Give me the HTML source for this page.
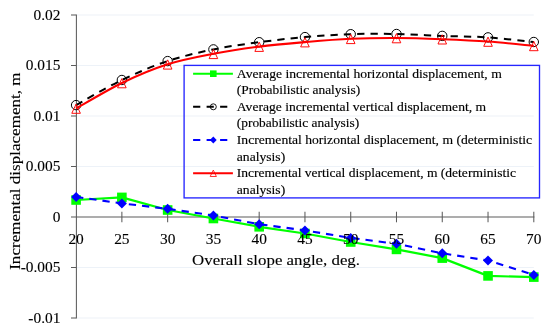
<!DOCTYPE html>
<html><head><meta charset="utf-8"><title>Incremental displacement chart</title>
<style>html,body{margin:0;padding:0;background:#fff}svg{display:block}text{font-family:"Liberation Serif",serif;fill:#000}</style></head><body>
<svg width="550" height="331" viewBox="0 0 550 331">
<rect width="550" height="331" fill="#fff"/>
<line x1="76.1" x2="533.8" y1="15.00" y2="15.00" stroke="#edf2f8" stroke-width="1.2"/>
<line x1="76.1" x2="533.8" y1="65.50" y2="65.50" stroke="#edf2f8" stroke-width="1.2"/>
<line x1="76.1" x2="533.8" y1="116.00" y2="116.00" stroke="#edf2f8" stroke-width="1.2"/>
<line x1="76.1" x2="533.8" y1="166.50" y2="166.50" stroke="#edf2f8" stroke-width="1.2"/>
<line x1="76.1" x2="533.8" y1="267.50" y2="267.50" stroke="#edf2f8" stroke-width="1.2"/>
<line x1="76.1" x2="533.8" y1="318.00" y2="318.00" stroke="#edf2f8" stroke-width="1.2"/>
<line x1="76.4" x2="76.4" y1="14.5" y2="318.5" stroke="#5c5c5c" stroke-width="1.05"/>
<line x1="76.1" x2="534.4" y1="217.00" y2="217.00" stroke="#5c5c5c" stroke-width="1.05"/>
<line x1="71" x2="76.1" y1="15.00" y2="15.00" stroke="#5c5c5c" stroke-width="1.05"/>
<line x1="71" x2="76.1" y1="65.50" y2="65.50" stroke="#5c5c5c" stroke-width="1.05"/>
<line x1="71" x2="76.1" y1="116.00" y2="116.00" stroke="#5c5c5c" stroke-width="1.05"/>
<line x1="71" x2="76.1" y1="166.50" y2="166.50" stroke="#5c5c5c" stroke-width="1.05"/>
<line x1="71" x2="76.1" y1="217.00" y2="217.00" stroke="#5c5c5c" stroke-width="1.05"/>
<line x1="71" x2="76.1" y1="267.50" y2="267.50" stroke="#5c5c5c" stroke-width="1.05"/>
<line x1="71" x2="76.1" y1="318.00" y2="318.00" stroke="#5c5c5c" stroke-width="1.05"/>
<line x1="121.87" x2="121.87" y1="211.70" y2="222.30" stroke="#5c5c5c" stroke-width="1.05"/>
<line x1="167.64" x2="167.64" y1="211.70" y2="222.30" stroke="#5c5c5c" stroke-width="1.05"/>
<line x1="213.41" x2="213.41" y1="211.70" y2="222.30" stroke="#5c5c5c" stroke-width="1.05"/>
<line x1="259.18" x2="259.18" y1="211.70" y2="222.30" stroke="#5c5c5c" stroke-width="1.05"/>
<line x1="304.95" x2="304.95" y1="211.70" y2="222.30" stroke="#5c5c5c" stroke-width="1.05"/>
<line x1="350.72" x2="350.72" y1="211.70" y2="222.30" stroke="#5c5c5c" stroke-width="1.05"/>
<line x1="396.49" x2="396.49" y1="211.70" y2="222.30" stroke="#5c5c5c" stroke-width="1.05"/>
<line x1="442.26" x2="442.26" y1="211.70" y2="222.30" stroke="#5c5c5c" stroke-width="1.05"/>
<line x1="488.03" x2="488.03" y1="211.70" y2="222.30" stroke="#5c5c5c" stroke-width="1.05"/>
<line x1="533.80" x2="533.80" y1="211.70" y2="222.30" stroke="#5c5c5c" stroke-width="1.05"/>
<path d="M76.10,200.00 L121.87,197.40 L167.64,210.00 L213.41,218.50 L259.18,226.80 L304.95,233.50 L350.72,242.00 L396.49,249.40 L442.26,258.10 L488.03,275.90 L533.80,277.10" fill="none" stroke="#00ff00" stroke-width="2.2" stroke-linejoin="round"/>
<rect x="71.30" y="195.20" width="9.6" height="9.6" fill="#00ff00"/>
<rect x="117.07" y="192.60" width="9.6" height="9.6" fill="#00ff00"/>
<rect x="162.84" y="205.20" width="9.6" height="9.6" fill="#00ff00"/>
<rect x="208.61" y="213.70" width="9.6" height="9.6" fill="#00ff00"/>
<rect x="254.38" y="222.00" width="9.6" height="9.6" fill="#00ff00"/>
<rect x="300.15" y="228.70" width="9.6" height="9.6" fill="#00ff00"/>
<rect x="345.92" y="237.20" width="9.6" height="9.6" fill="#00ff00"/>
<rect x="391.69" y="244.60" width="9.6" height="9.6" fill="#00ff00"/>
<rect x="437.46" y="253.30" width="9.6" height="9.6" fill="#00ff00"/>
<rect x="483.23" y="271.10" width="9.6" height="9.6" fill="#00ff00"/>
<rect x="529.00" y="272.30" width="9.6" height="9.6" fill="#00ff00"/>
<path d="M76.10,105.10 C83.73,100.92 106.61,87.33 121.87,80.00 C137.13,72.67 152.38,66.20 167.64,61.10 C182.90,56.00 198.15,52.55 213.41,49.40 C228.67,46.25 243.92,44.25 259.18,42.20 C274.44,40.15 289.69,38.43 304.95,37.10 C320.21,35.77 335.46,34.72 350.72,34.20 C365.98,33.68 381.23,33.72 396.49,34.00 C411.75,34.28 427.00,35.33 442.26,35.90 C457.52,36.47 472.77,36.38 488.03,37.40 C503.29,38.42 526.17,41.23 533.80,42.00" fill="none" stroke="#000" stroke-width="2.0" stroke-dasharray="7.3 6.05"/>
<circle cx="76.10" cy="105.10" r="4.7" fill="none" stroke="#000" stroke-width="1"/>
<circle cx="121.87" cy="80.00" r="4.7" fill="none" stroke="#000" stroke-width="1"/>
<circle cx="167.64" cy="61.10" r="4.7" fill="none" stroke="#000" stroke-width="1"/>
<circle cx="213.41" cy="49.40" r="4.7" fill="none" stroke="#000" stroke-width="1"/>
<circle cx="259.18" cy="42.20" r="4.7" fill="none" stroke="#000" stroke-width="1"/>
<circle cx="304.95" cy="37.10" r="4.7" fill="none" stroke="#000" stroke-width="1"/>
<circle cx="350.72" cy="34.20" r="4.7" fill="none" stroke="#000" stroke-width="1"/>
<circle cx="396.49" cy="34.00" r="4.7" fill="none" stroke="#000" stroke-width="1"/>
<circle cx="442.26" cy="35.90" r="4.7" fill="none" stroke="#000" stroke-width="1"/>
<circle cx="488.03" cy="37.40" r="4.7" fill="none" stroke="#000" stroke-width="1"/>
<circle cx="533.80" cy="42.00" r="4.7" fill="none" stroke="#000" stroke-width="1"/>
<path d="M76.10,196.90 L121.87,203.40 L167.64,208.80 L213.41,215.50 L259.18,224.20 L304.95,230.40 L350.72,237.90 L396.49,243.80 L442.26,253.30 L488.03,260.50 L533.80,274.90" fill="none" stroke="#0000ff" stroke-width="2.1" stroke-dasharray="7.3 6"/>
<path d="M76.10,191.90 L81.10,196.90 L76.10,201.90 L71.10,196.90Z" fill="#0000ff"/>
<path d="M121.87,198.40 L126.87,203.40 L121.87,208.40 L116.87,203.40Z" fill="#0000ff"/>
<path d="M167.64,203.80 L172.64,208.80 L167.64,213.80 L162.64,208.80Z" fill="#0000ff"/>
<path d="M213.41,210.50 L218.41,215.50 L213.41,220.50 L208.41,215.50Z" fill="#0000ff"/>
<path d="M259.18,219.20 L264.18,224.20 L259.18,229.20 L254.18,224.20Z" fill="#0000ff"/>
<path d="M304.95,225.40 L309.95,230.40 L304.95,235.40 L299.95,230.40Z" fill="#0000ff"/>
<path d="M350.72,232.90 L355.72,237.90 L350.72,242.90 L345.72,237.90Z" fill="#0000ff"/>
<path d="M396.49,238.80 L401.49,243.80 L396.49,248.80 L391.49,243.80Z" fill="#0000ff"/>
<path d="M442.26,248.30 L447.26,253.30 L442.26,258.30 L437.26,253.30Z" fill="#0000ff"/>
<path d="M488.03,255.50 L493.03,260.50 L488.03,265.50 L483.03,260.50Z" fill="#0000ff"/>
<path d="M533.80,269.90 L538.80,274.90 L533.80,279.90 L528.80,274.90Z" fill="#0000ff"/>
<path d="M76.10,108.50 C83.73,104.25 106.61,90.37 121.87,83.00 C137.13,75.63 152.38,69.17 167.64,64.30 C182.90,59.43 198.15,56.75 213.41,53.80 C228.67,50.85 243.92,48.55 259.18,46.60 C274.44,44.65 289.69,43.40 304.95,42.10 C320.21,40.80 335.46,39.48 350.72,38.80 C365.98,38.12 381.23,37.93 396.49,38.00 C411.75,38.07 427.00,38.62 442.26,39.20 C457.52,39.78 472.77,40.38 488.03,41.50 C503.29,42.62 526.17,45.17 533.80,45.90" fill="none" stroke="#ff0000" stroke-width="2.1"/>
<path d="M76.10,104.10 L80.40,113.30 L71.80,113.30Z" fill="none" stroke="#ff0000" stroke-width="0.95"/>
<path d="M121.87,78.60 L126.17,87.80 L117.57,87.80Z" fill="none" stroke="#ff0000" stroke-width="0.95"/>
<path d="M167.64,59.90 L171.94,69.10 L163.34,69.10Z" fill="none" stroke="#ff0000" stroke-width="0.95"/>
<path d="M213.41,49.40 L217.71,58.60 L209.11,58.60Z" fill="none" stroke="#ff0000" stroke-width="0.95"/>
<path d="M259.18,42.20 L263.48,51.40 L254.88,51.40Z" fill="none" stroke="#ff0000" stroke-width="0.95"/>
<path d="M304.95,37.70 L309.25,46.90 L300.65,46.90Z" fill="none" stroke="#ff0000" stroke-width="0.95"/>
<path d="M350.72,34.40 L355.02,43.60 L346.42,43.60Z" fill="none" stroke="#ff0000" stroke-width="0.95"/>
<path d="M396.49,33.60 L400.79,42.80 L392.19,42.80Z" fill="none" stroke="#ff0000" stroke-width="0.95"/>
<path d="M442.26,34.80 L446.56,44.00 L437.96,44.00Z" fill="none" stroke="#ff0000" stroke-width="0.95"/>
<path d="M488.03,37.10 L492.33,46.30 L483.73,46.30Z" fill="none" stroke="#ff0000" stroke-width="0.95"/>
<path d="M533.80,41.50 L538.10,50.70 L529.50,50.70Z" fill="none" stroke="#ff0000" stroke-width="0.95"/>
<rect x="184.1" y="65.4" width="355.4" height="132.5" fill="none" stroke="#2626ff" stroke-width="1.35"/>
<line x1="193.1" x2="232.9" y1="73.7" y2="73.7" stroke="#00ff00" stroke-width="1.9"/>
<rect x="210.0" y="70.4" width="6.6" height="6.6" fill="#00ff00"/>
<line x1="193.1" x2="232.9" y1="106.8" y2="106.8" stroke="#000" stroke-width="1.9" stroke-dasharray="7.2 6.3 7.2 6.3 7.2 100"/>
<circle cx="213.3" cy="106.8" r="3" fill="none" stroke="#000" stroke-width="0.9"/>
<line x1="193.1" x2="232.9" y1="140" y2="140" stroke="#0000ff" stroke-width="1.9" stroke-dasharray="7.2 6.3 7.2 6.3 7.2 100"/>
<path d="M213.3,136.6 L216.70000000000002,140 L213.3,143.4 L209.9,140Z" fill="#0000ff"/>
<line x1="193.1" x2="232.9" y1="173.3" y2="173.3" stroke="#ff0000" stroke-width="2"/>
<path d="M213.3,170.10000000000002 L216.4,176.5 L210.20000000000002,176.5Z" fill="none" stroke="#ff0000" stroke-width="0.8"/>
<text x="236.8" y="77.50" font-size="13" stroke="#000" stroke-width="0.15" textLength="265.0" lengthAdjust="spacingAndGlyphs">Average incremental horizontal displacement, m</text>
<text x="236.8" y="94.10" font-size="13" stroke="#000" stroke-width="0.15" textLength="123.4" lengthAdjust="spacingAndGlyphs">(Probabilistic analysis)</text>
<text x="236.8" y="110.70" font-size="13" stroke="#000" stroke-width="0.15" textLength="249.3" lengthAdjust="spacingAndGlyphs">Average incremental vertical displacement, m</text>
<text x="236.8" y="127.30" font-size="13" stroke="#000" stroke-width="0.15" textLength="122.4" lengthAdjust="spacingAndGlyphs">(probabilistic analysis)</text>
<text x="236.8" y="143.90" font-size="13" stroke="#000" stroke-width="0.15" textLength="295.2" lengthAdjust="spacingAndGlyphs">Incremental horizontal displacement, m (deterministic</text>
<text x="236.8" y="160.50" font-size="13" stroke="#000" stroke-width="0.15" textLength="48.4" lengthAdjust="spacingAndGlyphs">analysis)</text>
<text x="236.8" y="177.10" font-size="13" stroke="#000" stroke-width="0.15" textLength="279.2" lengthAdjust="spacingAndGlyphs">Incremental vertical displacement, m (deterministic</text>
<text x="236.8" y="193.70" font-size="13" stroke="#000" stroke-width="0.15" textLength="48.4" lengthAdjust="spacingAndGlyphs">analysis)</text>
<text x="60.4" y="19.70" font-size="15.4" stroke="#000" stroke-width="0.12" text-anchor="end">0.02</text>
<text x="60.4" y="70.20" font-size="15.4" stroke="#000" stroke-width="0.12" text-anchor="end">0.015</text>
<text x="60.4" y="120.70" font-size="15.4" stroke="#000" stroke-width="0.12" text-anchor="end">0.01</text>
<text x="60.4" y="171.20" font-size="15.4" stroke="#000" stroke-width="0.12" text-anchor="end">0.005</text>
<text x="60.4" y="221.70" font-size="15.4" stroke="#000" stroke-width="0.12" text-anchor="end">0</text>
<text x="60.4" y="272.20" font-size="15.4" stroke="#000" stroke-width="0.12" text-anchor="end">-0.005</text>
<text x="60.4" y="322.70" font-size="15.4" stroke="#000" stroke-width="0.12" text-anchor="end">-0.01</text>
<text x="76.10" y="244.3" font-size="15.4" stroke="#000" stroke-width="0.12" text-anchor="middle">20</text>
<text x="121.87" y="244.3" font-size="15.4" stroke="#000" stroke-width="0.12" text-anchor="middle">25</text>
<text x="167.64" y="244.3" font-size="15.4" stroke="#000" stroke-width="0.12" text-anchor="middle">30</text>
<text x="213.41" y="244.3" font-size="15.4" stroke="#000" stroke-width="0.12" text-anchor="middle">35</text>
<text x="259.18" y="244.3" font-size="15.4" stroke="#000" stroke-width="0.12" text-anchor="middle">40</text>
<text x="304.95" y="244.3" font-size="15.4" stroke="#000" stroke-width="0.12" text-anchor="middle">45</text>
<text x="350.72" y="244.3" font-size="15.4" stroke="#000" stroke-width="0.12" text-anchor="middle">50</text>
<text x="396.49" y="244.3" font-size="15.4" stroke="#000" stroke-width="0.12" text-anchor="middle">55</text>
<text x="442.26" y="244.3" font-size="15.4" stroke="#000" stroke-width="0.12" text-anchor="middle">60</text>
<text x="488.03" y="244.3" font-size="15.4" stroke="#000" stroke-width="0.12" text-anchor="middle">65</text>
<text x="533.80" y="244.3" font-size="15.4" stroke="#000" stroke-width="0.12" text-anchor="middle">70</text>
<text x="192.1" y="265.3" font-size="15.5" stroke="#000" stroke-width="0.12" textLength="167.9" lengthAdjust="spacingAndGlyphs">Overall slope angle, deg.</text>
<text transform="translate(19.5,269.8) rotate(-90)" font-size="15.2" stroke="#000" stroke-width="0.12" textLength="197.3" lengthAdjust="spacingAndGlyphs">Incremental displacement, m</text>
</svg></body></html>
